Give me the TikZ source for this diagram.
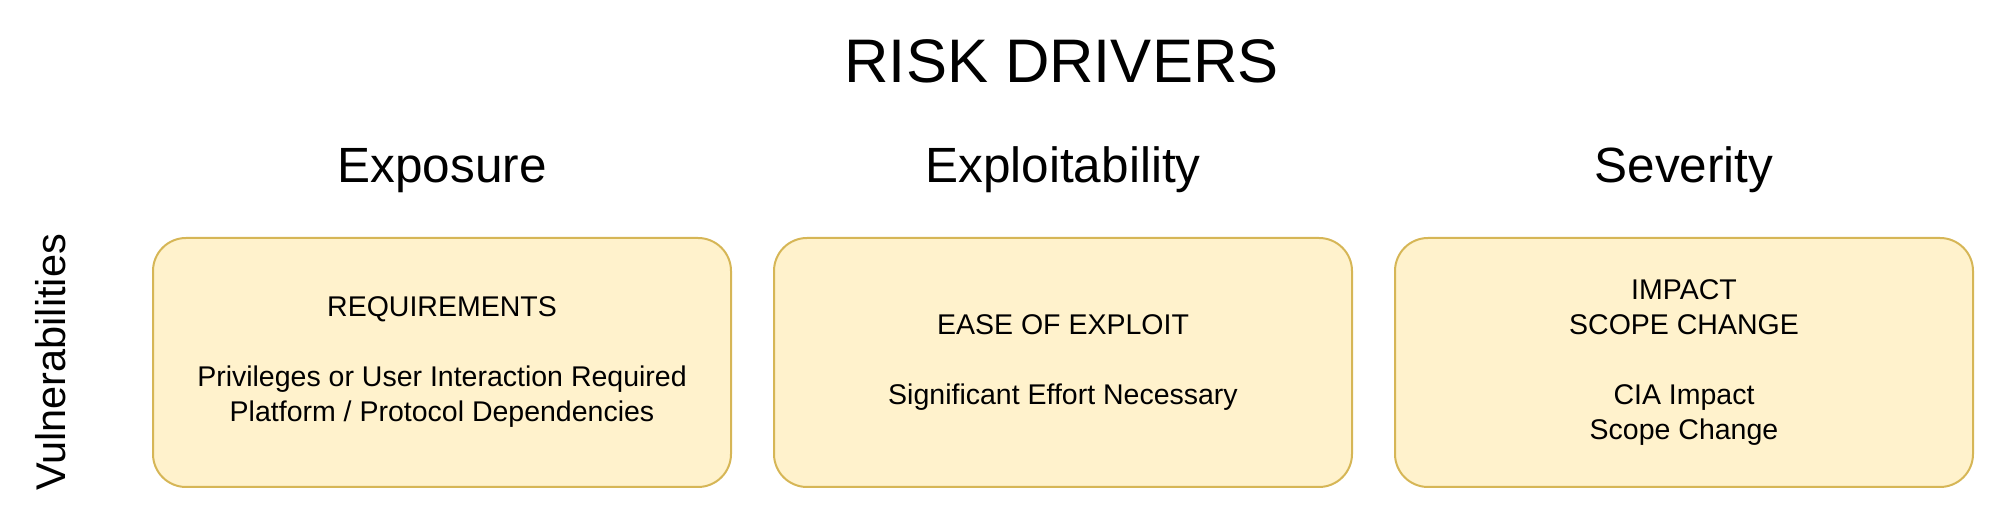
\documentclass[tikz,border=0pt]{standalone}
\usepackage{fontspec}
\setmainfont{Liberation Sans}
\usetikzlibrary{positioning}
\definecolor{cajafondo}{HTML}{FFF2CC}
\definecolor{cajaborde}{HTML}{D6B656}
\tikzset{
	caja/.style={draw=cajaborde, fill=cajafondo, line width=1pt, rounded corners=16.5pt,
		minimum width=289pt, minimum height=124.5pt, inner sep=0pt, align=center,
		font=\fontsize{14.25}{17.5}\selectfont},
	encabezado/.style={anchor=base, font=\fontsize{24.75}{29}\selectfont},
}
\begin{document}
\begin{tikzpicture}[x=0.5pt, y=-0.5pt]
	\def\yc{362.5} % centro de las cajas
	\def\ys{17.5pt} % linea vacia
	\useasboundingbox (0,0) rectangle (1999,522);
	
	% Titulo
	\node[anchor=base, font=\fontsize{30.75}{36}\selectfont] (titulo) at (1061.5,83) {RISK DRIVERS};
	
	% Cajas
	\node[caja] (exposicion) at (442,\yc) {REQUIREMENTS\\[\ys] Privileges or User Interaction Required\\ Platform / Protocol Dependencies};
	\node[caja, right=20.5pt of exposicion] (explotabilidad) {EASE OF EXPLOIT\\[\ys] Significant Effort Necessary};
	\node[caja, right=20.5pt of explotabilidad] (severidad) {IMPACT\\ SCOPE CHANGE\\[\ys] CIA Impact\\ Scope Change};
	
	% Encabezados de columna
	\node[encabezado] (hexp) at (exposicion.north |- 0,183) {Exposure};
	\node[encabezado] (hexpl) at (explotabilidad.north |- 0,183) {Exploitability};
	\node[encabezado] (hsev) at (severidad.north |- 0,183) {Severity};
	
	% Etiqueta de fila
	\node[rotate=90, anchor=base, font=\fontsize{20.75}{25}\selectfont] (vuln) at (65,\yc) {Vulnerabilities};
\end{tikzpicture}
\end{document}
